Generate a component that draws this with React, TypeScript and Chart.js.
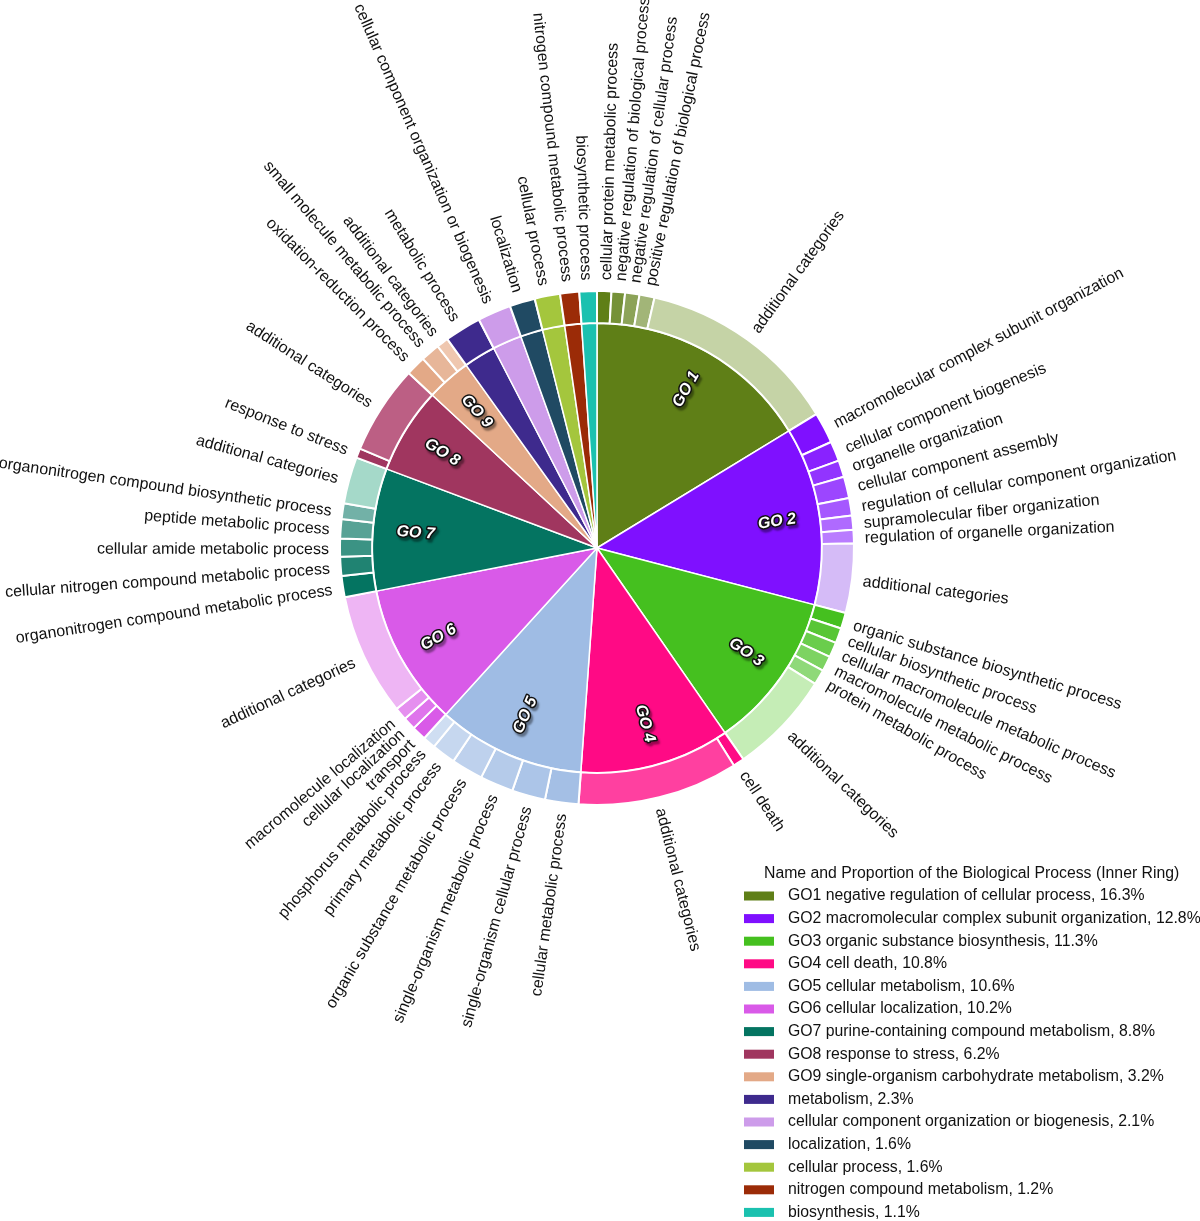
import React, { useEffect, useRef } from "react";
import { Chart, registerables } from "chart.js";

Chart.register(...registerables);

// ---------- DATA ----------
const innerNames = [
  "GO1 negative regulation of cellular process",
  "GO2 macromolecular complex subunit organization",
  "GO3 organic substance biosynthesis",
  "GO4 cell death",
  "GO5 cellular metabolism",
  "GO6 cellular localization",
  "GO7 purine-containing compound metabolism",
  "GO8 response to stress",
  "GO9 single-organism carbohydrate metabolism",
  "metabolism",
  "cellular component organization or biogenesis",
  "localization",
  "cellular process",
  "nitrogen compound metabolism",
  "biosynthesis",
];
const innerTags = ["GO 1", "GO 2", "GO 3", "GO 4", "GO 5", "GO 6", "GO 7", "GO 8", "GO 9", "", "", "", "", "", ""];
const innerValues = [16.3, 12.8, 11.3, 10.8, 10.6, 10.2, 8.8, 6.2, 3.2, 2.3, 2.1, 1.6, 1.6, 1.2, 1.1];

const go1Labels = ["cellular protein metabolic process", "negative regulation of biological process", "negative regulation of cellular process", "positive regulation of biological process", "additional categories"];
const go1Values = [0.9, 0.85, 0.9, 0.95, 12.7];
const go2Labels = ["macromolecular complex subunit organization", "cellular component biogenesis", "organelle organization", "cellular component assembly", "regulation of cellular component organization", "supramolecular fiber organization", "regulation of organelle organization", "additional categories"];
const go2Values = [1.95, 1.25, 1.05, 1.35, 1.1, 0.9, 0.85, 4.35];
const go3Labels = ["organic substance biosynthetic process", "cellular biosynthetic process", "cellular macromolecule metabolic process", "macromolecule metabolic process", "protein metabolic process", "additional categories"];
const go3Values = [1.0, 0.95, 0.95, 0.95, 0.95, 6.5];
const go4Labels = ["cell death", "additional categories"];
const go4Values = [0.7, 10.1];
const go5Labels = ["cellular metabolic process", "single-organism cellular process", "single-organism metabolic process", "organic substance metabolic process", "primary metabolic process", "phosphorus metabolic process"];
const go5Values = [2.1, 2.1, 2.1, 2.0, 1.5, 0.8];
const go6Labels = ["transport", "cellular localization", "macromolecule localization", "additional categories"];
const go6Values = [0.9, 0.8, 0.8, 7.7];
const go7Labels = ["organonitrogen compound metabolic process", "cellular nitrogen compound metabolic process", "cellular amide metabolic process", "peptide metabolic process", "organonitrogen compound biosynthetic process", "additional categories"];
const go7Values = [1.33, 1.2, 1.14, 1.2, 1.0, 2.93];
const go8Labels = ["response to stress", "additional categories"];
const go8Values = [0.6, 5.6];
const go9Labels = ["oxidation-reduction process", "small molecule metabolic process", "additional categories"];
const go9Values = [1.25, 1.2, 0.75];
const singleLabels = ["metabolic process", "cellular component organization or biogenesis", "localization", "cellular process", "nitrogen compound metabolic process", "biosynthetic process"];
const singleValues = [2.3, 2.1, 1.6, 1.6, 1.2, 1.1];

// ---------- STYLE ----------
const innerColors = ["#5f7f17", "#7f10ff", "#45c01f", "#ff0a85", "#9fbce4", "#d95ae8", "#047461", "#a0365f", "#e3a987", "#3e2a8d", "#cd9cea", "#204a63", "#a4c63d", "#9b2b07", "#1bc1af"];
// per group: [start mix, step mix]
const groupShades: [number, number][] = [
  [0, 0.14],
  [0, 0.075],
  [0, 0.1],
  [0, 0.1],
  [0.05, 0.09],
  [0, 0.16],
  [0, 0.11],
  [0, 0.1],
  [0, 0.15],
];
const additionalColors = ["#c5d3a6", "#d5bbf7", "#c5edb6", "#ff40a0", "#d6e3f5", "#eeb5f4", "#a5d9c9", "#bc5f84", "#efc7af"];

const FONT = "'Liberation Sans', Arial, Helvetica, sans-serif";
const W = 1200;
const H = 1221;

function mix(hex: string, t: number): string {
  const n = parseInt(hex.slice(1), 16);
  const r = (n >> 16) & 255, g = (n >> 8) & 255, b = n & 255;
  const f = (c: number) => Math.round(c + (255 - c) * t);
  return `rgb(${f(r)},${f(g)},${f(b)})`;
}

const groups = [
  { labels: go1Labels, values: go1Values },
  { labels: go2Labels, values: go2Values },
  { labels: go3Labels, values: go3Values },
  { labels: go4Labels, values: go4Values },
  { labels: go5Labels, values: go5Values },
  { labels: go6Labels, values: go6Values },
  { labels: go7Labels, values: go7Values },
  { labels: go8Labels, values: go8Values },
  { labels: go9Labels, values: go9Values },
];

const outerLabels: string[] = [];
const outerValues: number[] = [];
const outerColors: string[] = [];
groups.forEach((g, gi) => {
  const [s0, step] = groupShades[gi];
  g.labels.forEach((lab, i) => {
    outerLabels.push(lab);
    outerValues.push(g.values[i]);
    outerColors.push(lab === "additional categories" ? additionalColors[gi] : mix(innerColors[gi], s0 + step * i));
  });
});
singleLabels.forEach((lab, i) => {
  outerLabels.push(lab);
  outerValues.push(singleValues[i]);
  outerColors.push(innerColors[9 + i]);
});

const labelPlugin = {
  id: "sunburstLabels",
  afterDatasetsDraw(chart: any) {
    const ctx = chart.ctx as CanvasRenderingContext2D;
    // outer labels
    const outerMeta = chart.getDatasetMeta(0);
    ctx.save();
    ctx.font = `16px ${FONT}`;
    ctx.fillStyle = "#111";
    ctx.textBaseline = "middle";
    outerMeta.data.forEach((arc: any, i: number) => {
      const p = arc.getProps(["x", "y", "startAngle", "endAngle", "outerRadius"], true);
      const m = (p.startAngle + p.endAngle) / 2;
      const r = p.outerRadius + 11;
      const right = Math.cos(m) >= 0;
      ctx.save();
      ctx.translate(p.x + r * Math.cos(m), p.y + r * Math.sin(m));
      ctx.rotate(right ? m : m + Math.PI);
      ctx.textAlign = right ? "left" : "right";
      ctx.fillText(outerLabels[i], 0, 2);
      ctx.restore();
    });
    ctx.restore();

    // inner tags
    const innerMeta = chart.getDatasetMeta(1);
    ctx.save();
    ctx.font = `italic bold 16px ${FONT}`;
    ctx.textBaseline = "middle";
    ctx.textAlign = "center";
    ctx.lineJoin = "round";
    innerMeta.data.forEach((arc: any, i: number) => {
      const tag = innerTags[i];
      if (!tag) return;
      const p = arc.getProps(["x", "y", "startAngle", "endAngle", "outerRadius"], true);
      const m = (p.startAngle + p.endAngle) / 2;
      const r = 182;
      const right = Math.cos(m) >= 0;
      ctx.save();
      ctx.translate(p.x + r * Math.cos(m), p.y + r * Math.sin(m));
      ctx.rotate(right ? m : m + Math.PI);
      ctx.shadowColor = "rgba(0,0,0,0.4)";
      ctx.shadowOffsetX = 2;
      ctx.shadowOffsetY = 3;
      ctx.shadowBlur = 2;
      ctx.strokeStyle = "#111";
      ctx.lineWidth = 3;
      ctx.strokeText(tag, 0, 0);
      ctx.shadowColor = "transparent";
      ctx.fillStyle = "#fff";
      ctx.fillText(tag, 0, 0);
      ctx.restore();
    });
    ctx.restore();

    // legend
    ctx.save();
    ctx.font = `15.8px ${FONT}`;
    ctx.fillStyle = "#111";
    ctx.textBaseline = "middle";
    ctx.textAlign = "left";
    ctx.fillText("Name and Proportion of the Biological Process (Inner Ring)", 764, 873.5);
    innerNames.forEach((name, i) => {
      const y = 896 + i * 22.6;
      ctx.fillStyle = innerColors[i];
      ctx.fillRect(744, y - 4.5, 30, 9);
      ctx.fillStyle = "#111";
      ctx.fillText(`${name}, ${innerValues[i]}%`, 788, y);
    });
    ctx.restore();
  },
};

export default function App() {
  const ref = useRef<HTMLCanvasElement | null>(null);
  useEffect(() => {
    if (!ref.current) return;
    const chart = new Chart(ref.current, {
      type: "doughnut",
      data: {
        labels: outerLabels,
        datasets: [
          {
            label: "outer",
            data: outerValues,
            backgroundColor: outerColors,
            borderColor: "#ffffff",
            borderWidth: 2,
            weight: 32,
          } as any,
          {
            label: "inner",
            data: innerValues,
            backgroundColor: innerColors,
            borderColor: "#ffffff",
            borderWidth: 1.5,
            weight: 224,
          } as any,
        ],
      },
      options: {
        responsive: false,
        animation: false,
        radius: 257,
        cutout: 0,
        layout: { padding: { left: 0, right: W - 2 * 597, top: 0, bottom: H - 2 * 548 } },
        plugins: { legend: { display: false }, tooltip: { enabled: false } },
      } as any,
      plugins: [labelPlugin],
    });
    return () => chart.destroy();
  }, []);
  return (
    <div style={{ width: W - 16, height: H - 16 }}>
      <canvas
        ref={ref}
        width={W}
        height={H}
        style={{ position: "fixed", left: 0, top: 0, width: W, height: H, display: "block" }}
      />
    </div>
  );
}
